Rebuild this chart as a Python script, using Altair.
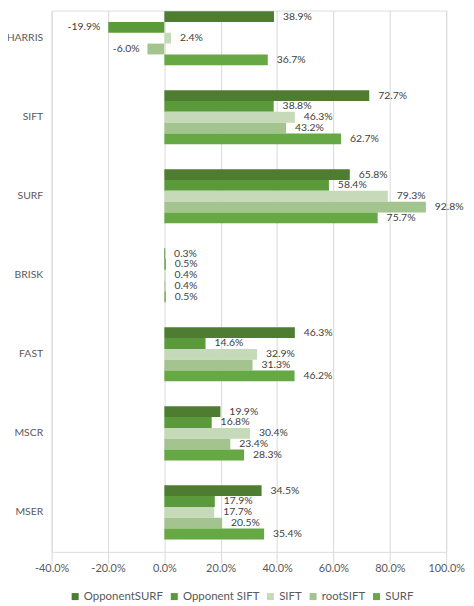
import altair as alt
import pandas as pd

categories = ["HARRIS", "SIFT", "SURF", "BRISK", "FAST", "MSCR", "MSER"]
series = ["OpponentSURF", "Opponent SIFT", "SIFT", "rootSIFT", "SURF"]
colors = ["#4e7d32", "#5b9a3a", "#c6dab9", "#a4c48f", "#66a844"]

opponent_surf = [38.9, 72.7, 65.8, 0.3, 46.3, 19.9, 34.5]
opponent_sift = [-19.9, 38.8, 58.4, 0.5, 14.6, 16.8, 17.9]
sift = [2.4, 46.3, 79.3, 0.4, 32.9, 30.4, 17.7]
root_sift = [-6.0, 43.2, 92.8, 0.4, 31.3, 23.4, 20.5]
surf = [36.7, 62.7, 75.7, 0.5, 46.2, 28.3, 35.4]

x_ticks = [-0.4, -0.2, 0.0, 0.2, 0.4, 0.6, 0.8, 1.0]

values_by_series = [opponent_surf, opponent_sift, sift, root_sift, surf]
rows = []
for s, vals in zip(series, values_by_series):
    for c, v in zip(categories, vals):
        rows.append({"cat": c, "series": s, "value": v / 100.0})
df = pd.DataFrame(rows)

FONT = "Lato"
GREY = "#595959"
PCT = "replace(format(datum.value, '.1%'), '\u2212', '-')"

x_enc = alt.X(
    "value:Q",
    scale=alt.Scale(domain=[-0.4, 1.0], nice=False, zero=True),
    axis=alt.Axis(
        values=x_ticks, labelExpr=PCT, title=None, grid=True, gridColor="#d9d9d9",
        domain=False, ticks=False, labelPadding=11, labelFontSize=11,
        labelColor=GREY, labelFont=FONT, labelFlush=False, labelOverlap=False,
    ),
)
y_enc = alt.Y(
    "cat:N",
    sort=categories,
    scale=alt.Scale(range=[-12, 546], paddingInner=0.315, paddingOuter=0.1575),
    axis=alt.Axis(
        title=None, domain=False, ticks=False, grid=False, labelPadding=9,
        labelFontSize=10.5, labelColor=GREY, labelFont=FONT,
    ),
)
yoff_enc = alt.YOffset("series:N", sort=series,
                       scale=alt.Scale(paddingInner=0, paddingOuter=0))

base = alt.Chart(df).transform_calculate(label=PCT)

bars = base.mark_bar().encode(
    x=x_enc,
    y=y_enc,
    yOffset=yoff_enc,
    color=alt.Color(
        "series:N",
        sort=series,
        scale=alt.Scale(domain=series, range=colors),
        legend=alt.Legend(
            title=None, orient="none", direction="horizontal",
            legendX=18, legendY=585, symbolType="square", symbolSize=50,
            symbolStrokeWidth=0, labelFontSize=11.5, labelColor=GREY,
            labelFont=FONT, columnPadding=5, labelOffset=3,
        ),
    ),
)

pos_text = base.transform_filter("datum.value >= 0").mark_text(
    align="left", baseline="middle", dx=9, fontSize=10.5, font=FONT, color="#404040"
).encode(
    x="value:Q",
    y=alt.Y("cat:N", sort=categories),
    yOffset=alt.YOffset("series:N", sort=series),
    text="label:N",
)

neg_text = base.transform_filter("datum.value < 0").mark_text(
    align="right", baseline="middle", dx=-8, fontSize=10.5, font=FONT, color="#404040"
).encode(
    x="value:Q",
    y=alt.Y("cat:N", sort=categories),
    yOffset=alt.YOffset("series:N", sort=series),
    text="label:N",
)

chart = alt.layer(bars, pos_text, neg_text).properties(
    width=398,
    height=546,
    autosize="none",
    padding={"left": 44, "top": 0, "right": 20, "bottom": 50},
).configure_view(stroke=None).configure(background="white")

chart.save("out.html", embed_options={"renderer": "svg", "actions": False})
